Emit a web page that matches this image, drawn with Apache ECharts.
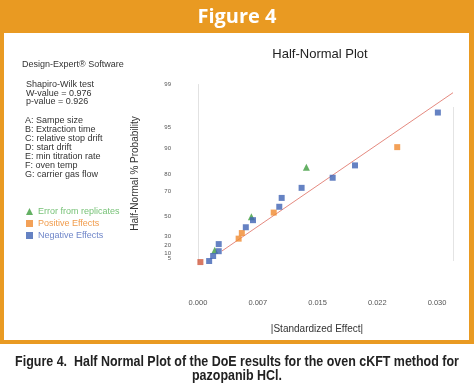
<!DOCTYPE html>
<html>
<head>
<meta charset="utf-8">
<script src="https://cdn.jsdelivr.net/npm/echarts@6/dist/echarts.min.js"></script>
<style>
html,body{margin:0;padding:0;background:#fff;}
#c{width:474px;height:386px;}
</style>
</head>
<body>
<div id="c"></div>
<script>
// ---- data ----
// y tick labels (half-normal % probability)
const probTicks = [5, 10, 20, 30, 50, 70, 80, 90, 95, 99];
// Negative effects (blue squares): |standardized effect| and half-normal % probability
const negX = [0.0014, 0.0019, 0.0026, 0.0026, 0.0060, 0.0069, 0.0102, 0.0105, 0.0130, 0.0169, 0.0197, 0.0301];
const negP = [1.7, 7.5, 13, 21, 39, 46, 58, 65, 72, 78, 84, 97];
// Positive effects (orange squares)
const posX = [0.0003, 0.0051, 0.0055, 0.0095, 0.0250];
const posP = [0.5, 27, 33, 53, 90.5];
// Error from replicates (green triangles)
const errX = [0.0021, 0.0067, 0.0136];
const errP = [14, 49.3, 83.2];
// fitted line end points
const lineX = [0.003, 0.032];
const lineP = [13.2, 98.6];

const infoLines = ['Shapiro-Wilk test', 'W-value = 0.976', 'p-value = 0.926'];
const factorLines = ['A: Sampe size', 'B: Extraction time', 'C: relative stop drift', 'D: start drift',
  'E: min titration rate', 'F: oven temp', 'G: carrier gas flow'];

// ---- helpers ----
function normInv(p) {
  const a = [-3.969683028665376e+01, 2.209460984245205e+02, -2.759285104469687e+02, 1.383577518672690e+02, -3.066479806614716e+01, 2.506628277459239e+00];
  const b = [-5.447609879822406e+01, 1.615858368580409e+02, -1.556989798598866e+02, 6.680131188771972e+01, -1.328068155288572e+01];
  const c = [-7.784894002430293e-03, -3.223964580411365e-01, -2.400758277161838e+00, -2.549732539343734e+00, 4.374664141464968e+00, 2.938163982698783e+00];
  const d = [7.784695709041462e-03, 3.224671290700398e-01, 2.445134137142996e+00, 3.754408661907416e+00];
  const pl = 0.02425, ph = 1 - pl;
  let q, r;
  if (p < pl) { q = Math.sqrt(-2 * Math.log(p)); return (((((c[0]*q+c[1])*q+c[2])*q+c[3])*q+c[4])*q+c[5]) / ((((d[0]*q+d[1])*q+d[2])*q+d[3])*q+1); }
  if (p <= ph) { q = p - 0.5; r = q*q; return (((((a[0]*r+a[1])*r+a[2])*r+a[3])*r+a[4])*r+a[5])*q / (((((b[0]*r+b[1])*r+b[2])*r+b[3])*r+b[4])*r+1); }
  q = Math.sqrt(-2 * Math.log(1 - p));
  return -(((((c[0]*q+c[1])*q+c[2])*q+c[3])*q+c[4])*q+c[5]) / ((((d[0]*q+d[1])*q+d[2])*q+d[3])*q+1);
}
const hz = p => normInv(0.5 + p / 200); // half-normal quantile of a % probability
const pts = (xs, ps) => xs.map((x, i) => [x, hz(ps[i])]);

// split ticks over two overlaid axes so the tightly packed low labels are not culled
const ticksA = probTicks.filter((_, i) => i % 2 === 0);
const ticksB = probTicks.filter((_, i) => i % 2 === 1);
const ORANGE = '#E99A22';
const CAP_FONT = 'bold 14px "Liberation Sans", Arial, sans-serif';
const FONT = '"Liberation Sans", Arial, sans-serif';

function yLabelAxis(ticks, withLine) {
  const zs = ticks.map(hz);
  return {
    type: 'value', min: 0, max: hz(99), offset: 13, position: 'left',
    axisLine: {show: withLine, lineStyle: {color: '#e2e2e2', width: 1}},
    axisTick: {show: false}, splitLine: {show: false},
    axisLabel: {
      customValues: zs, margin: 14, fontSize: 6, color: '#555',
      showMinLabel: true, showMaxLabel: true, hideOverlap: false, fontFamily: FONT,
      formatter: v => {
        let best = 0;
        zs.forEach((z, i) => { if (Math.abs(z - v) < Math.abs(zs[best] - v)) best = i; });
        return String(ticks[best]);
      }
    },
    name: withLine ? 'Half-Normal % Probability' : '', nameLocation: 'middle', nameGap: 45, nameRotate: 90,
    nameTextStyle: {fontSize: 10, color: '#333', fontFamily: FONT}
  };
}

const chart = echarts.init(document.getElementById('c'), null, {renderer: 'canvas'});

const graphics = [
  {type: 'rect', z: -10, shape: {x: 0, y: 0, width: 474, height: 344}, style: {fill: ORANGE}},
  {type: 'rect', z: -9, shape: {x: 4, y: 33, width: 465, height: 307}, style: {fill: '#ffffff'}},
  {type: 'text', z: 5, x: 237, y: 17, style: {text: 'Figure 4', fill: '#ffffff', font: 'bold 20px "Open Sans", sans-serif', textAlign: 'center', textVerticalAlign: 'middle'}},
  {type: 'text', z: 5, x: 237, y: 362, scaleX: 0.89, style: {text: 'Figure 4.  Half Normal Plot of the DoE results for the oven cKFT method for', fill: '#222', font: CAP_FONT, textAlign: 'center', textVerticalAlign: 'middle'}},
  {type: 'text', z: 5, x: 237, y: 376, scaleX: 0.89, style: {text: 'pazopanib HCl.', fill: '#222', font: CAP_FONT, textAlign: 'center', textVerticalAlign: 'middle'}},
  {type: 'text', z: 5, x: 22, y: 65, style: {text: 'Design-Expert\u00ae Software', fill: '#333', font: '9px ' + FONT, textVerticalAlign: 'middle'}},
  {type: 'line', z: 1, shape: {x1: 453.5, y1: 107, x2: 453.5, y2: 261}, style: {stroke: '#e4e4e4', lineWidth: 1}}
];
infoLines.forEach((t, i) => graphics.push({type: 'text', z: 5, x: 26, y: 85 + i * 8.5,
  style: {text: t, fill: '#333', font: '9px ' + FONT, textVerticalAlign: 'middle'}}));
factorLines.forEach((t, i) => graphics.push({type: 'text', z: 5, x: 25, y: 121 + i * 9,
  style: {text: t, fill: '#333', font: '9px ' + FONT, textVerticalAlign: 'middle'}}));

chart.setOption({
  animation: false,
  backgroundColor: '#ffffff',
  graphic: graphics,
  title: {
    text: 'Half-Normal Plot', left: 315, top: 43, textAlign: 'center',
    textStyle: {fontSize: 13, fontWeight: 'normal', color: '#222', fontFamily: FONT}
  },
  legend: {
    orient: 'vertical', left: 21, top: 202, itemWidth: 7, itemHeight: 7, itemGap: 3,
    textStyle: {fontSize: 9, lineHeight: 9, fontFamily: FONT},
    data: [
      {name: 'Error from replicates', icon: 'triangle', textStyle: {color: '#77c277'}},
      {name: 'Positive Effects', icon: 'rect', textStyle: {color: '#f19c4c'}},
      {name: 'Negative Effects', icon: 'rect', textStyle: {color: '#6f86c9'}}
    ]
  },
  grid: {left: 198, right: 21, top: 84.5, bottom: 123.5, containLabel: false},
  xAxis: {
    type: 'value', min: 0, max: 0.032, interval: 0.0075,
    axisLine: {show: false}, axisTick: {show: false}, splitLine: {show: false},
    axisLabel: {
      showMaxLabel: false, margin: 36, fontSize: 7.5, color: '#555', fontFamily: FONT,
      formatter: v => (Math.floor(v * 1000 + 1e-6) / 1000).toFixed(3)
    },
    name: '|Standardized Effect|', nameLocation: 'middle', nameGap: 62,
    nameTextStyle: {fontSize: 10, color: '#333', padding: [0, 17, 0, 0], fontFamily: FONT}
  },
  yAxis: [yLabelAxis(ticksA, true), yLabelAxis(ticksB, false)],
  series: [
    {
      type: 'line', name: 'fit', data: pts(lineX, lineP), showSymbol: false, silent: true,
      lineStyle: {color: '#e58a80', width: 1}, z: 1
    },
    {
      type: 'scatter', name: 'Error from replicates', data: pts(errX, errP),
      symbol: 'triangle', symbolSize: 7, itemStyle: {color: '#3d9c3d'}, z: 3
    },
    {
      type: 'scatter', name: 'Positive Effects',
      data: pts(posX, posP).map((v, i) => i === 0 ? {value: v, itemStyle: {color: '#d0583c'}} : v),
      symbol: 'rect', symbolSize: 6, itemStyle: {color: '#f0892e'}, z: 4
    },
    {
      type: 'scatter', name: 'Negative Effects', data: pts(negX, negP),
      symbol: 'rect', symbolSize: 6, itemStyle: {color: '#3e63b4'}, z: 4
    }
  ]
});
</script>
</body>
</html>
